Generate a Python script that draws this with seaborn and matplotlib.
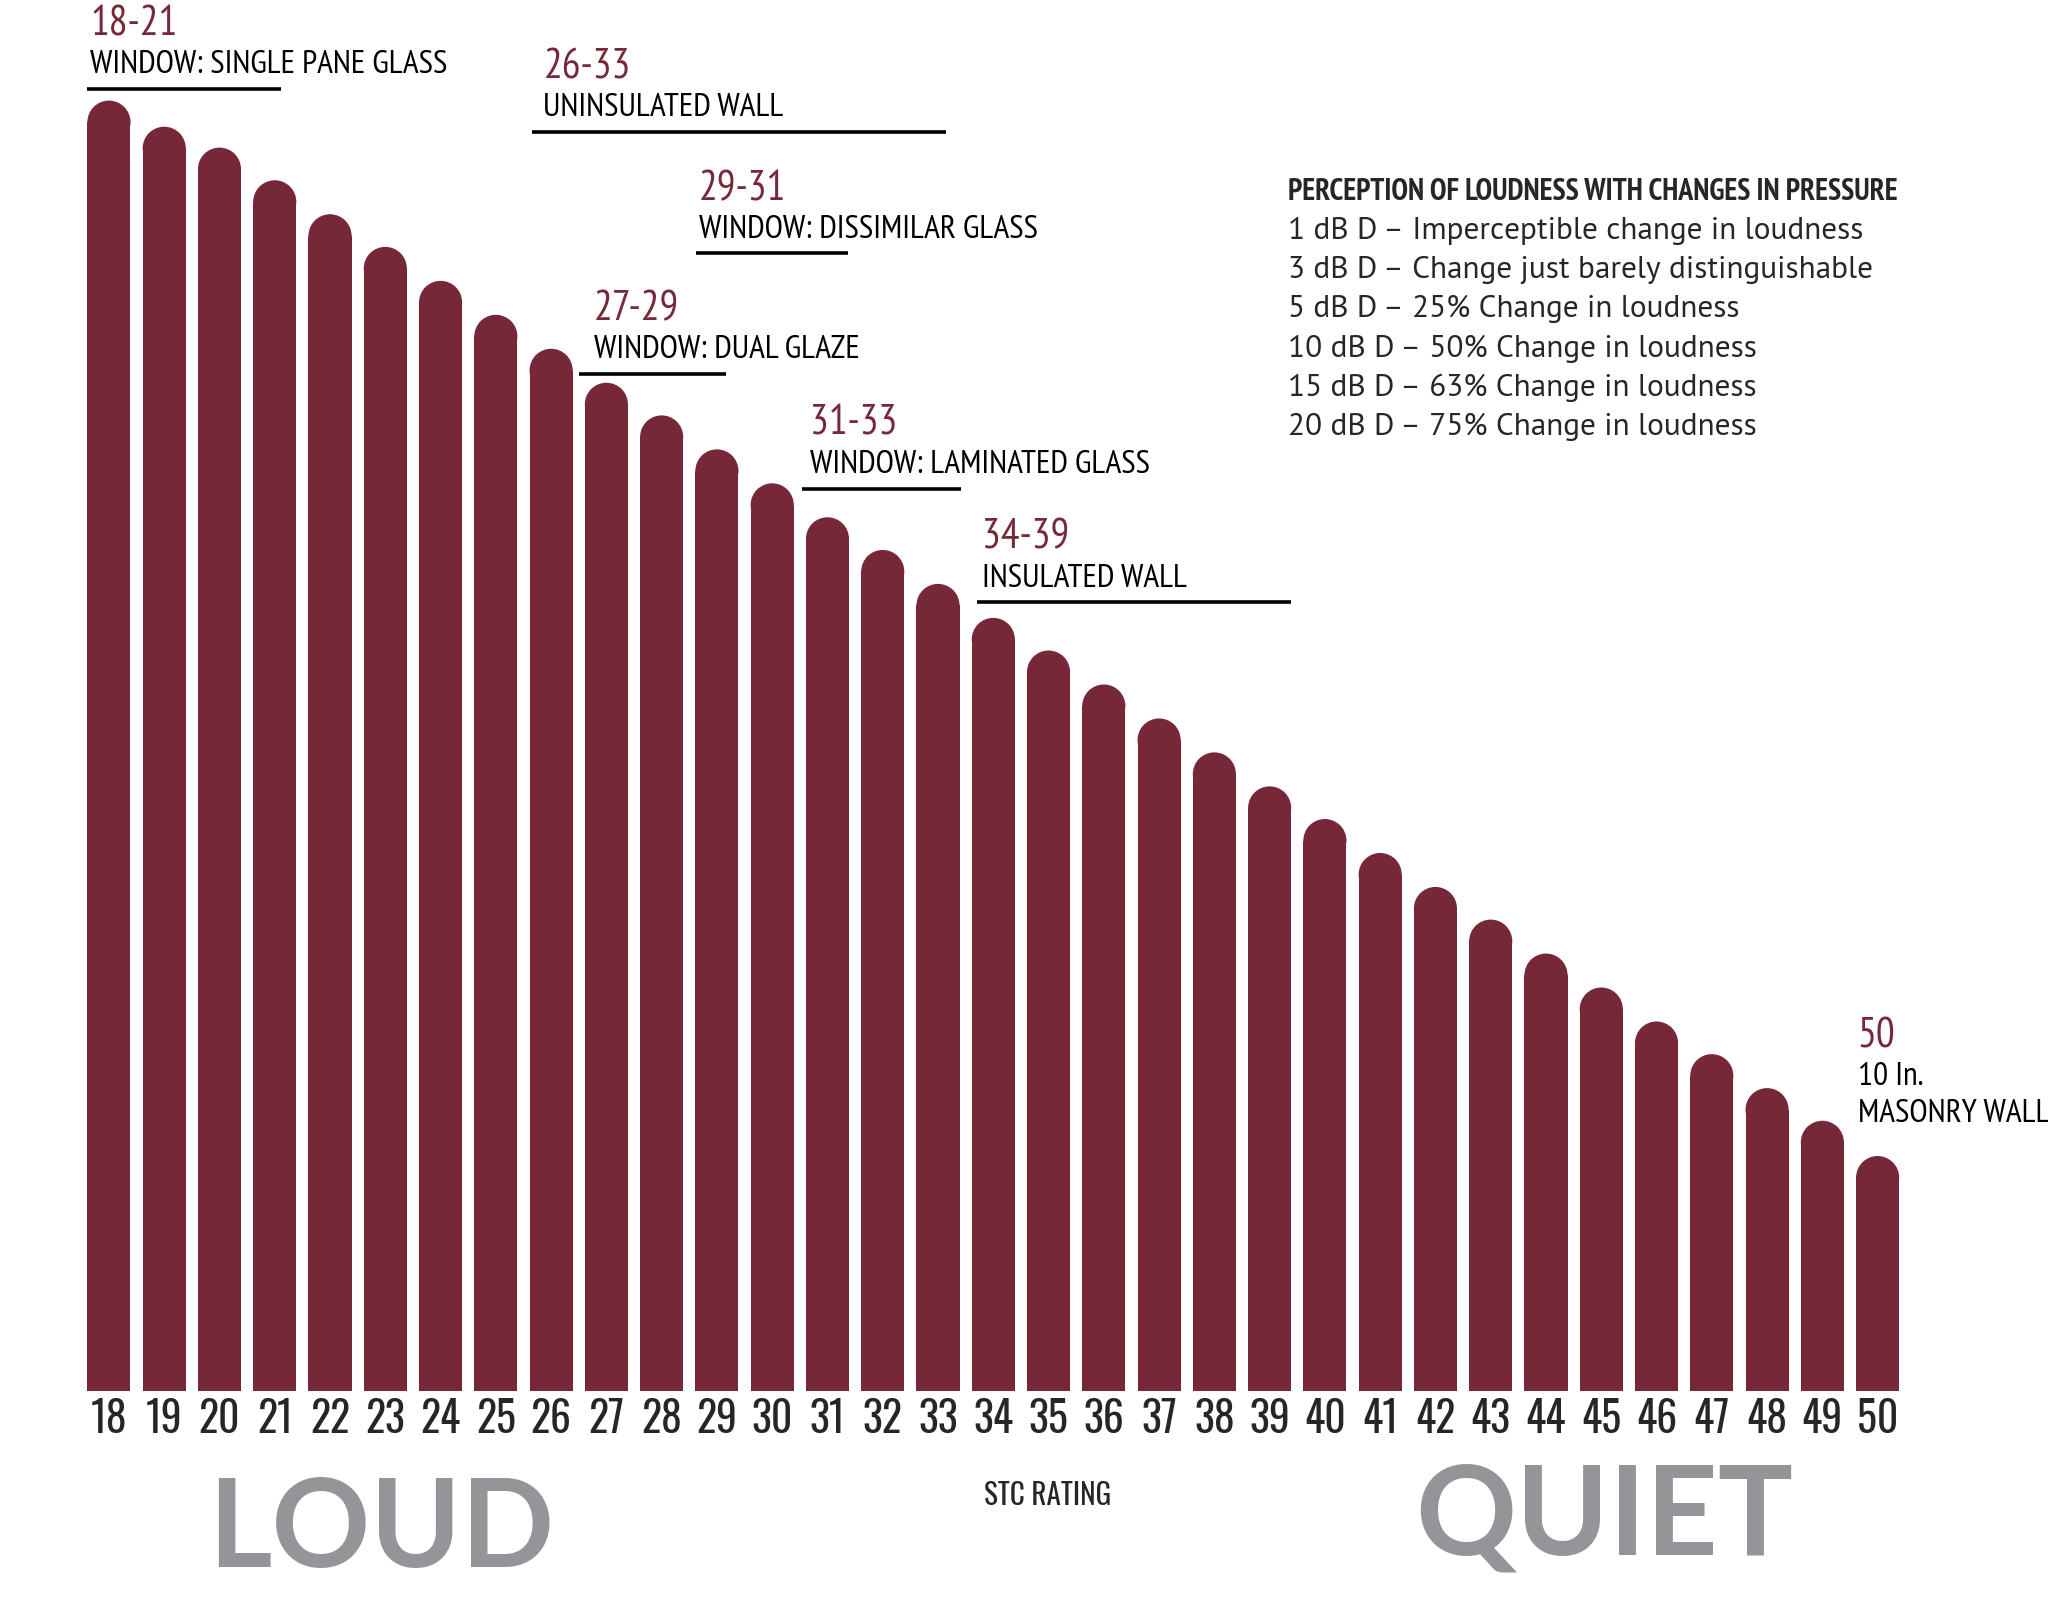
import matplotlib
matplotlib.use("Agg")
import matplotlib.pyplot as plt
from matplotlib.patches import Ellipse
import seaborn as sns
import numpy as np
import pandas as pd

# STC ratings and relative loudness (bar heights)
stc = [str(v) for v in range(18, 51)]
loudness = [988, 968, 952, 927, 901, 876, 850, 824, 798, 772, 747, 721, 695,
            669, 644, 618, 592, 567, 541, 515, 489, 463, 438, 412, 386, 361,
            335, 309, 283, 258, 232, 207, 180]

ranges = ["18-21", "26-33", "29-31", "27-29", "31-33", "34-39"]
captions = ["WINDOW: SINGLE PANE GLASS", "UNINSULATED WALL", "WINDOW: DISSIMILAR GLASS",
            "WINDOW: DUAL GLAZE", "WINDOW: LAMINATED GLASS", "INSULATED WALL"]

legend_title = "PERCEPTION OF LOUDNESS WITH CHANGES IN PRESSURE"
legend_lines = ["1 dB D \u2013 Imperceptible change in loudness",
                "3 dB D \u2013 Change just barely distinguishable",
                "5 dB D \u2013 25% Change in loudness",
                "10 dB D \u2013 50% Change in loudness",
                "15 dB D \u2013 63% Change in loudness",
                "20 dB D \u2013 75% Change in loudness"]

MAROON = "#762839"
GREY = "#939598"
NARROW = ["PT Sans Narrow", "Liberation Sans Narrow", "DejaVu Sans"]
REGULAR = ["PT Sans", "Noto Sans", "DejaVu Sans"]
COND = ["Oswald", "PT Sans Narrow", "DejaVu Sans"]
BIG = ["Lato", "DejaVu Sans"]

sns.set_style("white")
plt.rcParams["font.family"] = NARROW

fig = plt.figure(figsize=(20.48, 16.04), dpi=100)
ax = fig.add_axes([0.0397, 0.1327, 0.8906, 0.8673])
ax.set_xlim(-0.5, 32.5)
ax.set_ylim(0, 1065)

# bar body stops at the centre of a round cap
bar_w = 0.78
px_x = ax.bbox.width / 33
px_y = ax.bbox.height / 1065
cap_r = bar_w * px_x / 2 / px_y

df = pd.DataFrame({"stc": stc, "body": np.array(loudness) - cap_r})
sns.barplot(data=df, x="stc", y="body", color=MAROON, saturation=1,
            width=bar_w, linewidth=0, ax=ax)
for p in list(ax.patches):
    ax.add_patch(Ellipse((p.get_x() + p.get_width() / 2, p.get_height()),
                         p.get_width(), 2 * cap_r, color=MAROON, lw=0))

ax.set_xlim(-0.5, 32.5)
ax.set_ylim(0, 1065)
sns.despine(ax=ax, left=True, bottom=True)
ax.set_yticks([])
ax.set_ylabel("")
ax.set_xticks(range(len(stc)), labels=stc, fontsize=30, family=COND)
ax.tick_params(axis="x", length=0, pad=5)
ax.set_xlabel("STC RATING", fontsize=21, family=COND)
ax.xaxis.set_label_coords(0.5297, -0.075)
ax.xaxis.label.set_va("center")

# range annotations with underline
text_x = [-0.34, 7.86, 10.67, 8.78, 12.68, 15.80]
line_x0 = [-0.39, 7.65, 10.62, 8.50, 12.54, 15.71]
line_x1 = [3.11, 15.14, 13.37, 11.17, 15.42, 21.38]
line_y = [997, 964, 871, 779, 691, 604]
for rng, cap, tx, x0, x1, ly in zip(ranges, captions, text_x, line_x0, line_x1, line_y):
    ax.plot([x0, x1], [ly, ly], color="black", lw=2.6, solid_capstyle="butt", clip_on=False)
    ax.text(tx, ly + 41, rng, color=MAROON, fontsize=30, va="baseline", clip_on=False)
    ax.text(tx, ly + 12, cap, color="black", fontsize=24, va="baseline", clip_on=False)

ax.text(31.64, 263, "50", color=MAROON, fontsize=30, va="baseline", clip_on=False)
ax.text(31.64, 234, "10 In.", color="black", fontsize=24, va="baseline", clip_on=False)
ax.text(31.64, 206, "MASONRY WALL", color="black", fontsize=24, va="baseline", clip_on=False)

# pressure legend
ax.text(0.6615, 0.8563, legend_title, transform=ax.transAxes, fontsize=21.5,
        fontweight="bold", va="baseline")
for i, line in enumerate(legend_lines):
    ax.text(0.6615, 0.8282 - i * 0.02817, line, transform=ax.transAxes,
            fontsize=22.5, family=REGULAR, va="baseline")

fig.text(0.1859, 0.0228, "LOUD", color=GREY, fontsize=88, fontweight="bold",
         family=BIG, ha="center", va="baseline")
fig.text(0.7835, 0.0309, "QUIET", color=GREY, fontsize=90, fontweight="bold",
         family=BIG, ha="center", va="baseline")

fig.savefig("out.png", dpi=100)
